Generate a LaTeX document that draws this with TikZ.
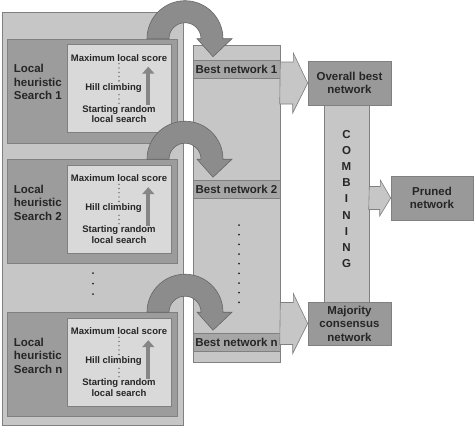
\documentclass[tikz,border=0pt]{standalone}
\usepackage{fontspec}
\setmainfont{Liberation Sans}
\usepackage{xcolor}
\usepackage{tikz}
\usetikzlibrary{positioning,arrows.meta,calc}

\begin{document}
\begin{tikzpicture}[
  x=1pt, y=-1pt,
  font=\fontsize{11.5}{13.5}\selectfont\bfseries,
  box/.style={draw=black!50, line width=0.6pt, inner sep=0pt, align=center, text=black!85},
  frame/.style={box, fill=gray!45},
  panel/.style={box, fill=gray!78, minimum width=170pt, minimum height=104pt},
  inbox/.style={box, fill=gray!30, minimum width=104pt, minimum height=88pt},
  band/.style={box, fill=gray!70, minimum width=87pt, minimum height=18pt},
  result/.style={box, fill=gray!80, minimum width=83pt, minimum height=44pt},
  txt/.style={inner sep=0pt, align=center, text=black!85},
  small/.style={txt, font=\fontsize{9.5}{10.5}\selectfont\bfseries},
  bentarrow/.style={draw=black!60, line width=0.6pt, fill=gray!90},
  fat/.style={draw=black!50, line width=0.6pt, fill=gray!45},
  climb/.style={draw=gray!95, line width=4pt, -{Triangle[width=12pt,length=7pt]}},
  tinydots/.style={black!80, line width=1.3pt, line cap=round, dash pattern=on 0pt off 4.3pt},
  bigdots/.style={black!85, line width=2pt, line cap=round, dash pattern=on 0pt off 9.67pt}
]
\useasboundingbox (0,0) rectangle (474,429);
% left column: local searches
\node[frame, minimum width=181pt, minimum height=413pt] (outer) at (92.5,218.5) {};
\coordinate (gap) at (185,0);
\node[panel] (p1) at (92,91) {};
\node[inbox] (in1) at ($(p1)+(27,-2.5)$) {};
\node[txt, align=left, anchor=west] (lh1) at ($(p1.west)+(7,-9)$) {Local\\heuristic\\Search 1};
\node[small] (max1)   at ($(in1)+(0,-30.5)$) {Maximum local score};
\node[small] (hill1)  at ($(in1)+(-5.5,-0.5)$) {Hill climbing};
\node[small] (start1) at ($(in1)+(0,25.5)$) {Starting random\\local search};
\node[panel] (p2) at (92,211.5) {};
\node[inbox] (in2) at ($(p2)+(27,-2.5)$) {};
\node[txt, align=left, anchor=west] (lh2) at ($(p2.west)+(7,-9)$) {Local\\heuristic\\Search 2};
\node[small] (max2)   at ($(in2)+(0,-30.5)$) {Maximum local score};
\node[small] (hill2)  at ($(in2)+(-5.5,-0.5)$) {Hill climbing};
\node[small] (start2) at ($(in2)+(0,25.5)$) {Starting random\\local search};
\node[panel] (pn) at (92,364.5) {};
\node[inbox] (inn) at ($(pn)+(27,-2.5)$) {};
\node[txt, align=left, anchor=west] (lhn) at ($(pn.west)+(7,-9)$) {Local\\heuristic\\Search n};
\node[small] (maxn)   at ($(inn)+(0,-30.5)$) {Maximum local score};
\node[small] (hilln)  at ($(inn)+(-5.5,-0.5)$) {Hill climbing};
\node[small] (startn) at ($(inn)+(0,25.5)$) {Starting random\\local search};
\coordinate (ld1) at (93,273);
\coordinate (ld2) at (93,294);
% middle column: best networks
\node[frame, minimum width=87pt, minimum height=317pt] (mid) at (236.5,203.5) {};
\node[band] (bn1) at (236.5,69)    {Best network 1};
\node[band] (bn2) at (236.5,189)   {Best network 2};
\node[band] (bnn) at (236.5,342.5) {Best network n};
\coordinate (md1) at (239,225);
\coordinate (md2) at (239,312);
% right part: combining
\node[frame, minimum width=45pt, minimum height=197pt] (comb) at (346.5,203.5) {};
\node[txt, font=\fontsize{11.5}{16.1}\selectfont\bfseries] (combtxt) at (346.5,199) {C\\O\\M\\B\\I\\N\\I\\N\\G};
\node[result] (ob) at (349.5,83)    {Overall best\\network};
\node[result, minimum height=43pt] (mj) at (349.5,323.5) {Majority\\consensus\\network};
\node[result, minimum width=82pt] (pr) at (432,198) {Pruned\\network};
% dots
\draw[tinydots, shorten <=2pt, shorten >=2pt] (max1.south) -- (max1.south |- hill1.north);
\draw[tinydots, shorten <=2pt, shorten >=1pt] (hill1.south -| max1.south) -- (start1.north -| max1.south);
\draw[tinydots, shorten <=2pt, shorten >=2pt] (max2.south) -- (max2.south |- hill2.north);
\draw[tinydots, shorten <=2pt, shorten >=1pt] (hill2.south -| max2.south) -- (start2.north -| max2.south);
\draw[tinydots, shorten <=2pt, shorten >=2pt] (maxn.south) -- (maxn.south |- hilln.north);
\draw[tinydots, shorten <=2pt, shorten >=1pt] (hilln.south -| maxn.south) -- (startn.north -| maxn.south);
\draw[bigdots, dash pattern=on 0pt off 10.5pt] (ld1) -- (ld2);
\draw[bigdots] (md1) -- (md2);
% arrows
\draw[climb] ($(start1.north -| in1.east)+(-23,0)$) -- ($(max1.south -| in1.east)+(-23,5)$);
\draw[climb] ($(start2.north -| in2.east)+(-23,0)$) -- ($(max2.south -| in2.east)+(-23,5)$);
\draw[climb] ($(startn.north -| inn.east)+(-23,0)$) -- ($(maxn.south -| inn.east)+(-23,5)$);
\filldraw[bentarrow] ($(p1.north -| gap)+(-38,0)$) arc[start angle=180, end angle=360, radius=38]
  -- ++(9,0) -- ++(-19,18) -- ++(-16,-18) -- ++(4,0) arc[start angle=0, end angle=-180, radius=16] -- cycle;
\filldraw[bentarrow] ($(p2.north -| gap)+(-38,0)$) arc[start angle=180, end angle=360, radius=38]
  -- ++(9,0) -- ++(-19,18) -- ++(-16,-18) -- ++(4,0) arc[start angle=0, end angle=-180, radius=16] -- cycle;
\filldraw[bentarrow] ($(pn.north -| gap)+(-38,0)$) arc[start angle=180, end angle=360, radius=38]
  -- ++(9,0) -- ++(-19,18) -- ++(-16,-18) -- ++(4,0) arc[start angle=0, end angle=-180, radius=16] -- cycle;
\filldraw[fat] ($(mid.east |- ob.west)+(0,-21)$) -- ++(13,0) -- ++(0,-9) -- (ob.west)
  -- ++(-15,30) -- ++(0,-9) -- ++(-13,0) -- cycle;
\filldraw[fat] ($(mid.east |- mj.west)+(0,-21)$) -- ++(13,0) -- ++(0,-9) -- (mj.west)
  -- ++(-15,30) -- ++(0,-9) -- ++(-13,0) -- cycle;
\filldraw[fat] ($(comb.east |- pr.west)+(0,-11.5)$) -- ++(11,0) -- ++(0,-6.5) -- (pr.west)
  -- ++(-11,18) -- ++(0,-6.5) -- ++(-11,0) -- cycle;
\end{tikzpicture}
\end{document}
